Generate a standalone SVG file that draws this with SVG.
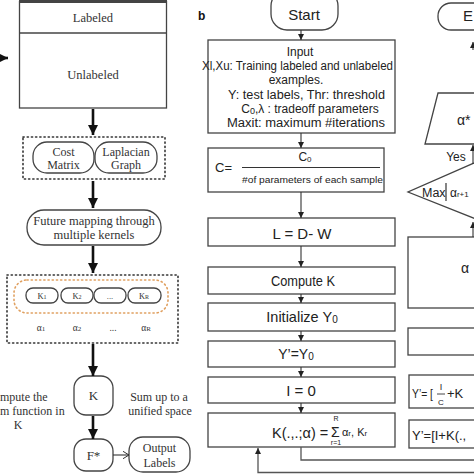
<svg xmlns="http://www.w3.org/2000/svg" width="474" height="474" viewBox="0 0 474 474">
<defs>
<style>
.ser{font-family:"Liberation Serif","Times New Roman",serif;fill:#333}
.san{font-family:"Liberation Sans",Arial,sans-serif;fill:#222}
.box{fill:#fff;stroke:#444;stroke-width:1.3}
.thk{stroke:#111;stroke-width:2.6;fill:none}
.thn{stroke:#333;stroke-width:1.1;fill:none}
.dot{fill:none;stroke:#333;stroke-width:1.6;stroke-dasharray:1.2 3;stroke-linecap:round}
.odot{fill:none;stroke:#e0a060;stroke-width:1.6;stroke-dasharray:1.2 3;stroke-linecap:round}
</style>
<marker id="ah" markerUnits="userSpaceOnUse" markerWidth="10" markerHeight="10" refX="10" refY="5" orient="auto"><path d="M0,0 L10,5 L0,10 z" fill="#111"/></marker>
<marker id="as" markerUnits="userSpaceOnUse" markerWidth="6" markerHeight="6" refX="6" refY="3" orient="auto"><path d="M0,0 L6,3 L0,6 z" fill="#222"/></marker>
<marker id="ao" markerUnits="userSpaceOnUse" markerWidth="7" markerHeight="8" refX="6.5" refY="4" orient="auto"><path d="M0,0 L6.5,4 L0,8" fill="none" stroke="#333" stroke-width="1"/></marker>
</defs>
<rect width="474" height="474" fill="#fff"/>

<!-- Panel a -->
<g id="data">
<rect class="box" x="19.5" y="1.5" width="147" height="106.5"/>
<line x1="19" y1="1.5" x2="167" y2="1.5" stroke="#444" stroke-width="3"/>
<line x1="19.5" y1="33" x2="166.5" y2="33" stroke="#444" stroke-width="1.3"/>
<text class="ser" x="93" y="21.5" font-size="12.5" text-anchor="middle">Labeled</text>
<text class="ser" x="93" y="78.5" font-size="12.5" text-anchor="middle">Unlabeled</text>
</g>
<g id="graphs">
<rect class="dot" x="23" y="137" width="142" height="42"/>
<rect class="box" x="33" y="142" width="61" height="31" rx="14"/>
<text class="ser" x="63.5" y="156" font-size="12" text-anchor="middle">Cost</text>
<text class="ser" x="63.5" y="169" font-size="12" text-anchor="middle">Matrix</text>
<rect class="box" x="95" y="142" width="62" height="31" rx="14"/>
<text class="ser" x="126" y="156" font-size="12" text-anchor="middle">Laplacian</text>
<text class="ser" x="126" y="169" font-size="12" text-anchor="middle">Graph</text>
</g>
<g id="mapping">
<rect class="box" x="27" y="210" width="134" height="35" rx="17"/>
<text class="ser" x="94" y="225" font-size="12.5" text-anchor="middle">Future mapping through</text>
<text class="ser" x="94" y="239" font-size="12.5" text-anchor="middle">multiple kernels</text>
</g>
<g id="kernels">
<rect class="dot" x="7" y="275" width="171" height="68"/>
<rect class="odot" x="14" y="280" width="154" height="33" rx="13"/>
<rect class="box" x="26" y="288" width="32" height="15" rx="7"/>
<text class="ser" x="42" y="299" font-size="8.5" text-anchor="middle">K<tspan font-size="6">1</tspan></text>
<rect class="box" x="61" y="288" width="32" height="15" rx="7"/>
<text class="ser" x="77" y="299" font-size="8.5" text-anchor="middle">K<tspan font-size="6">2</tspan></text>
<rect class="box" x="94" y="288" width="32" height="15" rx="7"/>
<text class="ser" x="110" y="299" font-size="8.5" text-anchor="middle">...</text>
<rect class="box" x="128" y="288" width="33" height="15" rx="7"/>
<text class="ser" x="144" y="299" font-size="8.5" text-anchor="middle">K<tspan font-size="6">R</tspan></text>
<text class="ser" x="41" y="331" font-size="9.5" text-anchor="middle">α<tspan font-size="7">1</tspan></text>
<text class="ser" x="77" y="331" font-size="9.5" text-anchor="middle">α<tspan font-size="7">2</tspan></text>
<text class="ser" x="113" y="331" font-size="9.5" text-anchor="middle">...</text>
<text class="ser" x="146" y="331" font-size="9.5" text-anchor="middle">α<tspan font-size="7">R</tspan></text>
</g>
<g id="k">
<rect class="box" x="74" y="376" width="39" height="39" rx="12"/>
<text class="ser" x="93.5" y="400" font-size="13" text-anchor="middle">K</text>
</g>
<g id="fstar">
<rect class="box" x="74" y="439" width="39" height="32" rx="12"/>
<text class="ser" x="93.5" y="460" font-size="13" text-anchor="middle">F*</text>
</g>
<g id="output">
<rect class="box" x="129" y="437" width="61" height="35" rx="14"/>
<text class="ser" x="159.5" y="452" font-size="12" text-anchor="middle">Output</text>
<text class="ser" x="159.5" y="467" font-size="12" text-anchor="middle">Labels</text>
</g>
<g id="notes">
<text class="ser" x="0" y="401" font-size="12">mpute the</text>
<text class="ser" x="0" y="415" font-size="12">m function in</text>
<text class="ser" x="18" y="429" font-size="12" text-anchor="middle">K</text>
<text class="ser" x="159" y="401" font-size="12" text-anchor="middle">Sum up to a</text>
<text class="ser" x="160" y="415" font-size="12" text-anchor="middle">unified space</text>
</g>

<!-- Panel b -->
<g id="label-b"><text x="198" y="20" font-family="'Liberation Sans',Arial,sans-serif" font-weight="bold" font-size="12" fill="#111">b</text></g>
<g id="start">
<rect class="box" x="271" y="-10" width="67" height="40" rx="16"/>
<text class="san" x="304" y="20" font-size="15" text-anchor="middle">Start</text>
</g>
<g id="input">
<rect class="box" x="208" y="40" width="187" height="93"/>
<text class="san" x="300" y="56" font-size="12" text-anchor="middle">Input</text>
<text class="san" x="202" y="70" font-size="12" textLength="191" lengthAdjust="spacingAndGlyphs">Xl,Xu: Training labeled and unlabeled</text>
<text class="san" x="296" y="84" font-size="12" text-anchor="middle">examples.</text>
<text class="san" x="228" y="99" font-size="12" textLength="157" lengthAdjust="spacingAndGlyphs">Y: test labels, Thr: threshold</text>
<text class="san" x="310" y="113" font-size="12" text-anchor="middle">C<tspan font-size="9" dy="1">0</tspan><tspan dy="-1">,λ : tradeoff parameters</tspan></text>
<text class="san" x="227" y="127" font-size="12" textLength="158" lengthAdjust="spacingAndGlyphs">Maxit: maximum #iterations</text>
</g>
<g id="cbox">
<rect class="box" x="208" y="148" width="176" height="44"/>
<text class="san" x="215" y="172" font-size="13">C=</text>
<line x1="242" y1="167.5" x2="380" y2="167.5" stroke="#333" stroke-width="1"/>
<text class="san" x="305" y="161" font-size="12" text-anchor="middle">C<tspan font-size="8" dy="1">0</tspan></text>
<text class="san" x="242" y="183" font-size="9" textLength="141" lengthAdjust="spacingAndGlyphs">#of parameters of each sample</text>
</g>
<g id="lbox">
<rect class="box" x="208" y="218" width="187" height="28"/>
<text class="san" x="302" y="239" font-size="15" text-anchor="middle">L = D- W</text>
</g>
<g id="computek">
<rect class="box" x="208" y="267" width="187" height="27"/>
<text class="san" x="271" y="286" font-size="14.5" textLength="64" lengthAdjust="spacingAndGlyphs">Compute K</text>
</g>
<g id="init">
<rect class="box" x="208" y="303" width="187" height="28"/>
<text class="san" x="302" y="322" font-size="14.5" text-anchor="middle">Initialize Y<tspan font-size="10" dy="1">0</tspan></text>
</g>
<g id="yassign">
<rect class="box" x="208" y="341" width="187" height="26"/>
<text class="san" x="296" y="359" font-size="14" text-anchor="middle">Y’=Y<tspan font-size="10" dy="1">0</tspan></text>
</g>
<g id="izero">
<rect class="box" x="208" y="377" width="187" height="26"/>
<text class="san" x="301" y="396" font-size="15" text-anchor="middle">I = 0</text>
</g>
<g id="kcomb">
<rect class="box" x="208" y="413" width="187" height="34"/>
<text class="san" x="272" y="438" font-size="14.5">K(.,.;α) =</text>
<text class="san" x="331" y="437" font-size="14">Σ</text>
<text class="san" x="336" y="421" font-size="7" text-anchor="middle">R</text>
<text class="san" x="336" y="445" font-size="7" text-anchor="middle">r=1</text>
<text class="san" x="342" y="436" font-size="11">α<tspan font-size="8">r</tspan>, K<tspan font-size="8">r</tspan></text>
</g>

<!-- Panel c (cropped) -->
<g id="end">
<rect class="box" x="438" y="3" width="60" height="27" rx="13"/>
<text class="san" x="463" y="21" font-size="15">E</text>
</g>
<g id="alphastar">
<path class="box" d="M438,93 L485,93 L485,144 L425,144 Z"/>
<text class="san" x="457" y="125" font-size="14">α*</text>
</g>
<g id="decision">
<path d="M482,159.5 L408,192 L482,221.5" fill="#fff" stroke="#444" stroke-width="1.3"/>
<text class="san" x="422" y="197" font-size="12.5">Max</text>
<line x1="446" y1="183" x2="446" y2="201" stroke="#333" stroke-width="1.2"/>
<text class="san" x="450" y="197" font-size="12">α<tspan font-size="8">r+1</tspan></text>
</g>
<g id="alphabox">
<rect class="box" x="408" y="237" width="80" height="71"/>
<text class="san" x="461" y="273" font-size="14">α</text>
</g>
<g id="emptybox">
<rect class="box" x="408" y="328" width="80" height="27"/>
</g>
<g id="yupdate1">
<rect class="box" x="409" y="375" width="80" height="33"/>
<text class="san" x="412" y="398" font-size="13" textLength="21" lengthAdjust="spacingAndGlyphs">Y’= [</text>
<text class="san" x="441" y="390" font-size="9" text-anchor="middle">I</text>
<line x1="437" y1="394" x2="445" y2="394" stroke="#333" stroke-width="0.9"/>
<text class="san" x="441" y="405" font-size="8" text-anchor="middle">C</text>
<text class="san" x="447" y="398" font-size="13">+K</text>
</g>
<g id="yupdate2">
<rect class="box" x="409" y="420" width="80" height="28"/>
<text class="san" x="412" y="440" font-size="13">Y’=[I+K(.,</text>
</g>
<text class="san" x="456" y="161" font-size="12" text-anchor="middle">Yes</text>

<!-- Connectors -->
<g id="connectors">
<line class="thk" x1="0" y1="58" x2="8" y2="58" marker-end="url(#ah)"/>
<line class="thk" x1="93" y1="109" x2="93" y2="135" marker-end="url(#ah)"/>
<line class="thk" x1="93" y1="181" x2="93" y2="208" marker-end="url(#ah)"/>
<line class="thk" x1="93" y1="246" x2="93" y2="273" marker-end="url(#ah)"/>
<line class="thk" x1="93" y1="344" x2="93" y2="376" marker-end="url(#ah)"/>
<line class="thk" x1="93" y1="416" x2="93" y2="439" marker-end="url(#ah)"/>
<line class="thn" x1="113" y1="455" x2="129" y2="455" marker-end="url(#ao)"/>
<line class="thn" x1="301" y1="30" x2="301" y2="40" marker-end="url(#as)"/>
<line class="thn" x1="301" y1="133" x2="301" y2="148" marker-end="url(#as)"/>
<line class="thn" x1="301" y1="192" x2="301" y2="218" marker-end="url(#as)"/>
<line class="thn" x1="301" y1="246" x2="301" y2="267" marker-end="url(#as)"/>
<line class="thn" x1="301" y1="294" x2="301" y2="303" marker-end="url(#as)"/>
<line class="thn" x1="301" y1="331" x2="301" y2="341" marker-end="url(#as)"/>
<line class="thn" x1="301" y1="367" x2="301" y2="377" marker-end="url(#as)"/>
<line class="thn" x1="301" y1="403" x2="301" y2="413" marker-end="url(#as)"/>
<path d="M301,447 L301,460 L480,460" fill="none" stroke="#555" stroke-width="1.3"/>
<path d="M480,472.5 L258,472.5 L258,448" fill="none" stroke="#555" stroke-width="1.3" marker-end="url(#as)"/>
<line class="thn" x1="473" y1="164" x2="473" y2="145" marker-end="url(#as)"/>
<line class="thn" x1="473" y1="237" x2="473" y2="222" marker-end="url(#as)"/>
<line class="thn" x1="473" y1="50" x2="473" y2="42" marker-end="url(#as)"/>
</g>
</svg>
